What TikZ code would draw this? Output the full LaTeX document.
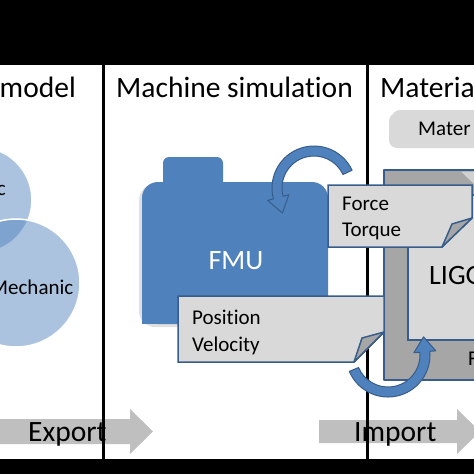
\documentclass[tikz,border=0pt]{standalone}
\usepackage{fontspec}
\setmainfont{Carlito}[Ligatures={NoCommon,NoContextual}]
\usetikzlibrary{calc}
\definecolor{fmublue}{RGB}{79,129,189}
\definecolor{edgeblue}{RGB}{56,93,138}
\definecolor{boxgray}{RGB}{217,217,217}
\definecolor{shadegray}{RGB}{166,166,166}
\definecolor{arrowgray}{RGB}{191,191,191}
\begin{document}
\begin{tikzpicture}
[   x=1pt, y=1pt, yscale=-1,
    head/.style={anchor=base west,inner sep=0pt,font=\fontsize{29.5}{35}\selectfont},
    txt/.style={anchor=base west,inner sep=0pt,font=\fontsize{21}{26}\selectfont},
    big/.style={anchor=base west,inner sep=0pt,font=\fontsize{28}{34}\selectfont},
    infobox/.style={fill=boxgray,draw=edgeblue,line width=1.5pt},
    flap/.style={fill=shadegray,draw=edgeblue,line width=1.5pt,line join=round},
    set/.style={fill=fmublue,fill opacity=0.48,draw=white,line width=1.5pt},
    curl/.style={fill=fmublue,draw=edgeblue,line width=1pt,line join=round},
]
    \useasboundingbox (0,0) rectangle (474,474);
    \clip (0,0) rectangle (474,474);
    % frame bands
    \fill[black] (0,0) rectangle (474,65);
    \fill[black] (0,459) rectangle (474,474);
    % model circles
    \draw[set] (-21,200) circle[radius=53];
    \draw[set] (16,283) circle[radius=64];
    % export / import arrows
    \fill[arrowgray] (0,419) -- (130,419) -- (130,409) -- (153,431.5)
        -- (130,454) -- (130,444) -- (0,444) -- cycle;
    \fill[arrowgray] (319,420) -- (457,420) -- (457,409) -- (480,431.5)
        -- (457,454) -- (457,443) -- (319,443) -- cycle;
    % column dividers
    \draw[line width=3pt] (103,65) -- (103,459);
    \draw[line width=3pt] (367,65) -- (367,459);
    % FMU block
    \fill[black,opacity=0.12,rounded corners=16pt] (139,184) rectangle (326,327);
    \fill[fmublue,rounded corners=6pt] (163,157) rectangle (223,195);
    \fill[fmublue,rounded corners=16pt] (142,182) rectangle (328,324);
    \fill[fmublue] (142,230) rectangle (328,324);
    % LIGGGHTS block
    \draw[flap] (384,170) rectangle (480,380);
    \fill[boxgray!85!shadegray] (461,171.5) -- (474,171.5) -- (474,184) -- cycle;
    \draw[infobox] (408,195) rectangle (480,340);
    % material box
    \fill[black,opacity=0.15,rounded corners=8pt] (389,113) rectangle (490,148);
    \fill[boxgray,rounded corners=8pt] (392,110) rectangle (490,145);
    % force box
    \draw[infobox] (328,185) -- (472,185) -- (472,218) -- (442,247) -- (328,247) -- cycle;
    \draw[flap] (472,218) -- (452,224) -- (442,247) -- cycle;
    % position box
    \draw[infobox] (178,296) -- (384,296) -- (384,332) -- (354,362) -- (178,362) -- cycle;
    \draw[flap] (384,332) -- (362,338) -- (354,362) -- cycle;
    % exchange arrows
    \coordinate (c1) at (314,188);
    \coordinate (c2) at (388,355);
    \draw[curl] ($(c1)+(-25:42)$) arc[start angle=-25,end angle=-195,radius=42]
        -- ($(c1)+(-195:48)$) -- ($(c1)+(-195:37)+(75:16)$) -- ($(c1)+(-195:26)$)
        -- ($(c1)+(-195:32)$) arc[start angle=-195,end angle=-25,radius=32] -- cycle;
    \draw[curl] ($(c2)+(157:42)$) arc[start angle=157,end angle=-5,radius=42]
        -- ($(c2)+(-5:48)$) -- ($(c2)+(-5:37)+(-95:15)$) -- ($(c2)+(-5:26)$)
        -- ($(c2)+(-5:32)$) arc[start angle=-5,end angle=157,radius=32] -- cycle;
    % labels
    \node[head,anchor=base east] (mdl) at (76,97) {model};
    \node[head] (msim) at (116,97) {Machine simulation};
    \node[head] (matsim) at (380,97) {Materia};
    \node[txt,anchor=base east] (elec) at (6,195) {c};
    \node[txt] (mech) at (-10,294) {Mechanic};
    \node[big,anchor=base,text=white] (fmu) at (236,269) {FMU};
    \node[txt] (mat) at (418,135) {Mater};
    \node[big] (ligg) at (429,284) {LIGG};
    \node[txt] (part) at (468,365) {F};
    \node[txt] (force) at (342,210) {Force};
    \node[txt] (torque) at (342,236) {Torque};
    \node[txt] (pos) at (192,324) {Position};
    \node[txt] (vel) at (192,351) {Velocity};
    \node[head] (exp) at (28,441) {Export};
    \node[head] (imp) at (354,441) {Import};
\end{tikzpicture}
\end{document}
